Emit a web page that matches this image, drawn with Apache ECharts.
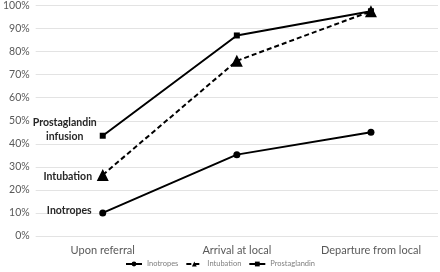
<!DOCTYPE html>
<html>
<head>
<meta charset="utf-8">
<script src="https://cdn.jsdelivr.net/npm/echarts@6/dist/echarts.min.js"></script>
<style>
  html, body { margin: 0; padding: 0; background: #fff; }
  #chart { width: 440px; height: 272px; }
</style>
</head>
<body>
<div id="chart"></div>
<script>
// values (percent)
var stages = ['Upon referral', 'Arrival at local', 'Departure from local'];
var inotropes = [10, 35.3, 45];
var intubation = [26.5, 76, 97.5];
var prostaglandin = [43.5, 87, 97.5];
var yTicks = [0, 10, 20, 30, 40, 50, 60, 70, 80, 90, 100];

var font = 'Lato';
var chart = echarts.init(document.getElementById('chart'));

// first point of each line carries the bold name on its left
function withStartLabel(values, text, offset) {
  return values.map(function (v, i) {
    if (i !== 0) return v;
    return {
      value: v,
      label: {
        show: true, position: 'left', offset: offset,
        formatter: text, color: '#262626', fontWeight: 'bold',
        fontFamily: font, fontSize: 10.5, lineHeight: 14, align: 'center'
      }
    };
  });
}

var option = {
  animation: false,
  grid: { left: 33, right: 2, top: 5, bottom: 36 },
  legend: {
    bottom: -1, left: 'center',
    itemWidth: 16, itemHeight: 6, itemGap: 7,
    textStyle: { color: '#7f7f7f', fontSize: 7.5, fontFamily: font },
    data: ['Inotropes', 'Intubation', 'Prostaglandin']
  },
  xAxis: {
    type: 'category',
    data: stages,
    boundaryGap: true,
    axisLine: { show: false },
    axisTick: { show: false },
    axisLabel: { color: '#595959', fontSize: 11, fontFamily: font, margin: 9 }
  },
  yAxis: {
    type: 'value', min: 0, max: 100, interval: 10,
    axisLine: { show: false },
    axisTick: { show: false },
    splitLine: { lineStyle: { color: '#e3e3e3', width: 1 } },
    axisLabel: {
      color: '#595959', fontSize: 10.5, fontFamily: font, margin: 6,
      formatter: function (v) { return yTicks.indexOf(v) >= 0 ? v + '%' : ''; }
    }
  },
  series: [
    {
      name: 'Inotropes', type: 'line',
      data: withStartLabel(inotropes, 'Inotropes', [-25, -2]),
      symbol: 'circle', symbolSize: 7,
      itemStyle: { color: '#000' },
      lineStyle: { color: '#000', width: 2 }
    },
    {
      name: 'Intubation', type: 'line',
      data: withStartLabel(intubation, 'Intubation', [-24, 2]),
      symbol: 'triangle', symbolSize: 12,
      itemStyle: { color: '#000' },
      lineStyle: { color: '#000', width: 2, type: [5, 3] }
    },
    {
      name: 'Prostaglandin', type: 'line',
      data: withStartLabel(prostaglandin, 'Prostaglandin\ninfusion', [-30, -6]),
      symbol: 'rect', symbolSize: 6,
      itemStyle: { color: '#000' },
      lineStyle: { color: '#000', width: 2 }
    }
  ]
};

chart.setOption(option);
</script>
</body>
</html>
